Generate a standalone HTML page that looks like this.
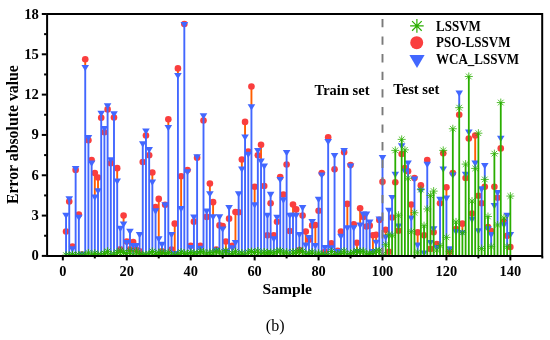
<!DOCTYPE html>
<html><head><meta charset="utf-8"><title>chart</title><style>html,body{margin:0;padding:0;background:#fff}body{width:550px;height:340px;overflow:hidden}</style></head><body>
<svg width="550" height="340" viewBox="0 0 550 340" style="display:block">
<rect x="0" y="0" width="550" height="340" fill="#fff"/>
<defs><clipPath id="pc"><rect x="47" y="14" width="495" height="242"/></clipPath></defs>
<g clip-path="url(#pc)">
<g stroke="#FF5E00" stroke-width="1.9">
<line x1="72.44" y1="248.91" x2="72.44" y2="246.49"/>
<line x1="78.83" y1="217.46" x2="78.83" y2="214.50"/>
<line x1="85.23" y1="67.74" x2="85.23" y2="59.27"/>
<line x1="91.62" y1="163.16" x2="91.62" y2="160.07"/>
<line x1="94.81" y1="197.17" x2="94.81" y2="173.11"/>
<line x1="98.01" y1="190.98" x2="98.01" y2="177.54"/>
<line x1="117.19" y1="181.31" x2="117.19" y2="168.14"/>
<line x1="123.58" y1="224.18" x2="123.58" y2="215.58"/>
<line x1="126.78" y1="242.73" x2="126.78" y2="241.52"/>
<line x1="133.17" y1="245.82" x2="133.17" y2="242.06"/>
<line x1="152.35" y1="182.25" x2="152.35" y2="172.57"/>
<line x1="155.55" y1="211.14" x2="155.55" y2="206.98"/>
<line x1="158.75" y1="238.97" x2="158.75" y2="198.91"/>
<line x1="165.14" y1="205.10" x2="165.14" y2="204.83"/>
<line x1="168.33" y1="127.82" x2="168.33" y2="119.35"/>
<line x1="174.73" y1="253.88" x2="174.73" y2="223.64"/>
<line x1="177.92" y1="75.67" x2="177.92" y2="68.41"/>
<line x1="181.12" y1="208.86" x2="181.12" y2="176.20"/>
<line x1="184.32" y1="24.73" x2="184.32" y2="24.06"/>
<line x1="187.51" y1="171.90" x2="187.51" y2="170.02"/>
<line x1="190.71" y1="247.70" x2="190.71" y2="245.82"/>
<line x1="200.30" y1="248.51" x2="200.30" y2="245.82"/>
<line x1="209.89" y1="194.08" x2="209.89" y2="183.59"/>
<line x1="213.09" y1="216.92" x2="213.09" y2="202.14"/>
<line x1="216.28" y1="250.52" x2="216.28" y2="249.45"/>
<line x1="222.67" y1="229.15" x2="222.67" y2="226.06"/>
<line x1="225.87" y1="250.66" x2="225.87" y2="241.52"/>
<line x1="232.26" y1="248.10" x2="232.26" y2="245.82"/>
<line x1="235.46" y1="242.73" x2="235.46" y2="211.95"/>
<line x1="241.85" y1="169.35" x2="241.85" y2="159.54"/>
<line x1="245.05" y1="137.22" x2="245.05" y2="121.90"/>
<line x1="248.25" y1="154.56" x2="248.25" y2="151.47"/>
<line x1="251.44" y1="106.98" x2="251.44" y2="86.56"/>
<line x1="254.64" y1="205.10" x2="254.64" y2="186.68"/>
<line x1="261.03" y1="161.28" x2="261.03" y2="144.75"/>
<line x1="273.82" y1="238.97" x2="273.82" y2="235.34"/>
<line x1="280.21" y1="179.83" x2="280.21" y2="177.01"/>
<line x1="283.41" y1="200.12" x2="283.41" y2="194.61"/>
<line x1="293.00" y1="215.58" x2="293.00" y2="204.56"/>
<line x1="296.19" y1="215.58" x2="296.19" y2="209.40"/>
<line x1="305.78" y1="245.15" x2="305.78" y2="231.57"/>
<line x1="315.37" y1="245.82" x2="315.37" y2="224.99"/>
<line x1="321.77" y1="175.26" x2="321.77" y2="173.11"/>
<line x1="328.16" y1="141.66" x2="328.16" y2="137.22"/>
<line x1="331.36" y1="248.10" x2="331.36" y2="243.40"/>
<line x1="337.75" y1="251.87" x2="337.75" y2="250.79"/>
<line x1="340.95" y1="236.55" x2="340.95" y2="231.57"/>
<line x1="347.34" y1="227.94" x2="347.34" y2="203.89"/>
<line x1="350.54" y1="166.26" x2="350.54" y2="165.05"/>
<line x1="353.73" y1="227.94" x2="353.73" y2="224.18"/>
<line x1="356.93" y1="251.06" x2="356.93" y2="242.73"/>
<line x1="360.12" y1="225.39" x2="360.12" y2="208.19"/>
<line x1="372.91" y1="251.87" x2="372.91" y2="235.34"/>
<line x1="376.11" y1="242.46" x2="376.11" y2="234.80"/>
<line x1="385.70" y1="237.22" x2="385.70" y2="229.69"/>
<line x1="411.27" y1="218.27" x2="411.27" y2="204.56"/>
<line x1="414.47" y1="179.29" x2="414.47" y2="177.95"/>
<line x1="417.66" y1="245.15" x2="417.66" y2="232.38"/>
<line x1="420.86" y1="190.04" x2="420.86" y2="185.34"/>
<line x1="427.25" y1="164.51" x2="427.25" y2="160.07"/>
<line x1="436.84" y1="247.70" x2="436.84" y2="243.94"/>
<line x1="446.43" y1="198.38" x2="446.43" y2="187.36"/>
<line x1="462.41" y1="233.05" x2="462.41" y2="223.64"/>
<line x1="475.20" y1="163.16" x2="475.20" y2="135.48"/>
<line x1="491.18" y1="234.66" x2="491.18" y2="231.04"/>
</g>
<g fill="#FA3E3E">
<circle cx="66.05" cy="231.57" r="3.3"/>
<circle cx="69.24" cy="201.60" r="3.3"/>
<circle cx="72.44" cy="246.49" r="3.3"/>
<circle cx="75.64" cy="169.88" r="3.3"/>
<circle cx="78.83" cy="214.50" r="3.3"/>
<circle cx="82.03" cy="254.56" r="3.3"/>
<circle cx="85.23" cy="59.27" r="3.3"/>
<circle cx="88.42" cy="140.32" r="3.3"/>
<circle cx="91.62" cy="160.07" r="3.3"/>
<circle cx="94.81" cy="173.11" r="3.3"/>
<circle cx="98.01" cy="177.54" r="3.3"/>
<circle cx="101.21" cy="117.87" r="3.3"/>
<circle cx="104.40" cy="132.25" r="3.3"/>
<circle cx="107.60" cy="109.40" r="3.3"/>
<circle cx="110.80" cy="163.16" r="3.3"/>
<circle cx="113.99" cy="117.47" r="3.3"/>
<circle cx="117.19" cy="168.14" r="3.3"/>
<circle cx="120.39" cy="249.18" r="3.3"/>
<circle cx="123.58" cy="215.58" r="3.3"/>
<circle cx="126.78" cy="241.52" r="3.3"/>
<circle cx="129.98" cy="249.18" r="3.3"/>
<circle cx="133.17" cy="242.06" r="3.3"/>
<circle cx="136.37" cy="249.85" r="3.3"/>
<circle cx="139.57" cy="251.20" r="3.3"/>
<circle cx="142.76" cy="161.95" r="3.3"/>
<circle cx="145.96" cy="135.48" r="3.3"/>
<circle cx="149.16" cy="155.23" r="3.3"/>
<circle cx="152.35" cy="172.57" r="3.3"/>
<circle cx="155.55" cy="206.98" r="3.3"/>
<circle cx="158.75" cy="198.91" r="3.3"/>
<circle cx="161.94" cy="251.20" r="3.3"/>
<circle cx="165.14" cy="204.83" r="3.3"/>
<circle cx="168.33" cy="119.35" r="3.3"/>
<circle cx="171.53" cy="249.58" r="3.3"/>
<circle cx="174.73" cy="223.64" r="3.3"/>
<circle cx="177.92" cy="68.41" r="3.3"/>
<circle cx="181.12" cy="176.20" r="3.3"/>
<circle cx="184.32" cy="24.06" r="3.3"/>
<circle cx="187.51" cy="170.02" r="3.3"/>
<circle cx="190.71" cy="245.82" r="3.3"/>
<circle cx="193.91" cy="221.63" r="3.3"/>
<circle cx="197.10" cy="157.79" r="3.3"/>
<circle cx="200.30" cy="245.82" r="3.3"/>
<circle cx="203.50" cy="120.56" r="3.3"/>
<circle cx="206.69" cy="216.92" r="3.3"/>
<circle cx="209.89" cy="183.59" r="3.3"/>
<circle cx="213.09" cy="202.14" r="3.3"/>
<circle cx="216.28" cy="249.45" r="3.3"/>
<circle cx="219.48" cy="225.39" r="3.3"/>
<circle cx="222.67" cy="226.06" r="3.3"/>
<circle cx="225.87" cy="241.52" r="3.3"/>
<circle cx="229.07" cy="218.67" r="3.3"/>
<circle cx="232.26" cy="245.82" r="3.3"/>
<circle cx="235.46" cy="211.95" r="3.3"/>
<circle cx="238.66" cy="212.22" r="3.3"/>
<circle cx="241.85" cy="159.54" r="3.3"/>
<circle cx="245.05" cy="121.90" r="3.3"/>
<circle cx="248.25" cy="151.47" r="3.3"/>
<circle cx="251.44" cy="86.56" r="3.3"/>
<circle cx="254.64" cy="186.68" r="3.3"/>
<circle cx="257.84" cy="155.23" r="3.3"/>
<circle cx="261.03" cy="144.75" r="3.3"/>
<circle cx="264.23" cy="186.01" r="3.3"/>
<circle cx="267.43" cy="235.34" r="3.3"/>
<circle cx="270.62" cy="203.22" r="3.3"/>
<circle cx="273.82" cy="235.34" r="3.3"/>
<circle cx="277.02" cy="221.76" r="3.3"/>
<circle cx="280.21" cy="177.01" r="3.3"/>
<circle cx="283.41" cy="194.61" r="3.3"/>
<circle cx="286.61" cy="164.51" r="3.3"/>
<circle cx="289.80" cy="231.04" r="3.3"/>
<circle cx="293.00" cy="204.56" r="3.3"/>
<circle cx="296.19" cy="209.40" r="3.3"/>
<circle cx="299.39" cy="250.12" r="3.3"/>
<circle cx="302.59" cy="215.58" r="3.3"/>
<circle cx="305.78" cy="231.57" r="3.3"/>
<circle cx="308.98" cy="239.77" r="3.3"/>
<circle cx="312.18" cy="225.39" r="3.3"/>
<circle cx="315.37" cy="224.99" r="3.3"/>
<circle cx="318.57" cy="210.74" r="3.3"/>
<circle cx="321.77" cy="173.11" r="3.3"/>
<circle cx="324.96" cy="251.87" r="3.3"/>
<circle cx="328.16" cy="137.22" r="3.3"/>
<circle cx="331.36" cy="243.40" r="3.3"/>
<circle cx="334.55" cy="169.35" r="3.3"/>
<circle cx="337.75" cy="250.79" r="3.3"/>
<circle cx="340.95" cy="231.57" r="3.3"/>
<circle cx="344.14" cy="152.14" r="3.3"/>
<circle cx="347.34" cy="203.89" r="3.3"/>
<circle cx="350.54" cy="165.05" r="3.3"/>
<circle cx="353.73" cy="224.18" r="3.3"/>
<circle cx="356.93" cy="242.73" r="3.3"/>
<circle cx="360.12" cy="208.19" r="3.3"/>
<circle cx="363.32" cy="216.92" r="3.3"/>
<circle cx="366.52" cy="226.60" r="3.3"/>
<circle cx="369.71" cy="225.66" r="3.3"/>
<circle cx="372.91" cy="235.34" r="3.3"/>
<circle cx="376.11" cy="234.80" r="3.3"/>
<circle cx="379.30" cy="219.88" r="3.3"/>
<circle cx="382.50" cy="181.71" r="3.3"/>
<circle cx="385.70" cy="229.69" r="3.3"/>
<circle cx="388.89" cy="251.87" r="3.3"/>
<circle cx="392.09" cy="217.60" r="3.3"/>
<circle cx="395.29" cy="182.25" r="3.3"/>
<circle cx="398.48" cy="230.77" r="3.3"/>
<circle cx="401.68" cy="154.02" r="3.3"/>
<circle cx="404.88" cy="168.14" r="3.3"/>
<circle cx="408.07" cy="171.23" r="3.3"/>
<circle cx="411.27" cy="204.56" r="3.3"/>
<circle cx="414.47" cy="177.95" r="3.3"/>
<circle cx="417.66" cy="232.38" r="3.3"/>
<circle cx="420.86" cy="185.34" r="3.3"/>
<circle cx="424.05" cy="235.34" r="3.3"/>
<circle cx="427.25" cy="160.07" r="3.3"/>
<circle cx="430.45" cy="248.91" r="3.3"/>
<circle cx="433.64" cy="232.25" r="3.3"/>
<circle cx="436.84" cy="243.94" r="3.3"/>
<circle cx="440.04" cy="203.22" r="3.3"/>
<circle cx="443.23" cy="153.35" r="3.3"/>
<circle cx="446.43" cy="187.36" r="3.3"/>
<circle cx="449.63" cy="251.87" r="3.3"/>
<circle cx="452.82" cy="173.11" r="3.3"/>
<circle cx="456.02" cy="229.02" r="3.3"/>
<circle cx="459.22" cy="114.78" r="3.3"/>
<circle cx="462.41" cy="223.64" r="3.3"/>
<circle cx="465.61" cy="177.95" r="3.3"/>
<circle cx="468.81" cy="138.57" r="3.3"/>
<circle cx="472.00" cy="213.56" r="3.3"/>
<circle cx="475.20" cy="135.48" r="3.3"/>
<circle cx="478.39" cy="195.82" r="3.3"/>
<circle cx="481.59" cy="203.22" r="3.3"/>
<circle cx="484.79" cy="186.68" r="3.3"/>
<circle cx="487.98" cy="227.00" r="3.3"/>
<circle cx="491.18" cy="231.04" r="3.3"/>
<circle cx="494.38" cy="186.68" r="3.3"/>
<circle cx="497.57" cy="197.70" r="3.3"/>
<circle cx="500.77" cy="148.38" r="3.3"/>
<circle cx="503.97" cy="221.49" r="3.3"/>
<circle cx="507.16" cy="235.87" r="3.3"/>
<circle cx="510.36" cy="247.03" r="3.3"/>
</g>
<g stroke="#4267FF" stroke-width="1.9">
<line x1="66.05" y1="255.23" x2="66.05" y2="215.58"/>
<line x1="69.24" y1="255.36" x2="69.24" y2="198.91"/>
<line x1="72.44" y1="254.69" x2="72.44" y2="248.91"/>
<line x1="75.64" y1="255.50" x2="75.64" y2="168.81"/>
<line x1="78.83" y1="254.96" x2="78.83" y2="217.46"/>
<line x1="82.03" y1="255.09" x2="82.03" y2="254.56"/>
<line x1="85.23" y1="255.09" x2="85.23" y2="67.74"/>
<line x1="88.42" y1="252.94" x2="88.42" y2="137.90"/>
<line x1="91.62" y1="255.23" x2="91.62" y2="163.16"/>
<line x1="94.81" y1="253.21" x2="94.81" y2="197.17"/>
<line x1="98.01" y1="254.96" x2="98.01" y2="190.98"/>
<line x1="101.21" y1="254.96" x2="101.21" y2="113.44"/>
<line x1="104.40" y1="253.35" x2="104.40" y2="128.76"/>
<line x1="107.60" y1="251.33" x2="107.60" y2="106.04"/>
<line x1="110.80" y1="254.82" x2="110.80" y2="160.07"/>
<line x1="113.99" y1="254.29" x2="113.99" y2="114.11"/>
<line x1="117.19" y1="252.27" x2="117.19" y2="181.31"/>
<line x1="120.39" y1="250.79" x2="120.39" y2="228.48"/>
<line x1="123.58" y1="252.54" x2="123.58" y2="224.18"/>
<line x1="126.78" y1="253.48" x2="126.78" y2="242.73"/>
<line x1="129.98" y1="250.66" x2="129.98" y2="231.57"/>
<line x1="133.17" y1="255.09" x2="133.17" y2="245.82"/>
<line x1="136.37" y1="251.20" x2="136.37" y2="245.82"/>
<line x1="139.57" y1="254.02" x2="139.57" y2="234.66"/>
<line x1="142.76" y1="254.69" x2="142.76" y2="144.08"/>
<line x1="145.96" y1="254.82" x2="145.96" y2="131.31"/>
<line x1="149.16" y1="253.88" x2="149.16" y2="149.72"/>
<line x1="152.35" y1="251.46" x2="152.35" y2="182.25"/>
<line x1="155.55" y1="254.42" x2="155.55" y2="211.14"/>
<line x1="158.75" y1="252.54" x2="158.75" y2="238.97"/>
<line x1="161.94" y1="252.27" x2="161.94" y2="244.61"/>
<line x1="165.14" y1="253.62" x2="165.14" y2="205.10"/>
<line x1="168.33" y1="252.67" x2="168.33" y2="127.82"/>
<line x1="171.53" y1="255.09" x2="171.53" y2="234.66"/>
<line x1="174.73" y1="255.09" x2="174.73" y2="253.88"/>
<line x1="177.92" y1="254.42" x2="177.92" y2="75.67"/>
<line x1="181.12" y1="252.14" x2="181.12" y2="208.86"/>
<line x1="184.32" y1="253.35" x2="184.32" y2="24.73"/>
<line x1="187.51" y1="253.88" x2="187.51" y2="171.90"/>
<line x1="190.71" y1="252.54" x2="190.71" y2="247.70"/>
<line x1="193.91" y1="253.21" x2="193.91" y2="217.19"/>
<line x1="197.10" y1="253.88" x2="197.10" y2="156.98"/>
<line x1="200.30" y1="251.46" x2="200.30" y2="248.51"/>
<line x1="203.50" y1="252.00" x2="203.50" y2="115.99"/>
<line x1="206.69" y1="254.15" x2="206.69" y2="211.28"/>
<line x1="209.89" y1="252.54" x2="209.89" y2="194.08"/>
<line x1="213.09" y1="252.81" x2="213.09" y2="216.92"/>
<line x1="216.28" y1="251.06" x2="216.28" y2="250.52"/>
<line x1="219.48" y1="251.87" x2="219.48" y2="216.92"/>
<line x1="222.67" y1="254.02" x2="222.67" y2="229.15"/>
<line x1="229.07" y1="254.82" x2="229.07" y2="207.65"/>
<line x1="232.26" y1="253.35" x2="232.26" y2="248.10"/>
<line x1="235.46" y1="251.73" x2="235.46" y2="242.73"/>
<line x1="238.66" y1="254.69" x2="238.66" y2="194.08"/>
<line x1="241.85" y1="252.94" x2="241.85" y2="169.35"/>
<line x1="245.05" y1="255.23" x2="245.05" y2="137.22"/>
<line x1="248.25" y1="252.14" x2="248.25" y2="154.56"/>
<line x1="251.44" y1="251.60" x2="251.44" y2="106.98"/>
<line x1="254.64" y1="252.54" x2="254.64" y2="205.10"/>
<line x1="257.84" y1="251.06" x2="257.84" y2="150.80"/>
<line x1="261.03" y1="253.88" x2="261.03" y2="161.28"/>
<line x1="264.23" y1="252.00" x2="264.23" y2="166.26"/>
<line x1="267.43" y1="252.54" x2="267.43" y2="215.58"/>
<line x1="270.62" y1="252.54" x2="270.62" y2="194.61"/>
<line x1="273.82" y1="253.21" x2="273.82" y2="238.97"/>
<line x1="277.02" y1="251.33" x2="277.02" y2="217.46"/>
<line x1="280.21" y1="250.79" x2="280.21" y2="179.83"/>
<line x1="283.41" y1="253.08" x2="283.41" y2="200.12"/>
<line x1="286.61" y1="252.14" x2="286.61" y2="152.68"/>
<line x1="289.80" y1="255.09" x2="289.80" y2="215.58"/>
<line x1="293.00" y1="252.00" x2="293.00" y2="215.58"/>
<line x1="296.19" y1="252.27" x2="296.19" y2="215.58"/>
<line x1="299.39" y1="250.52" x2="299.39" y2="234.66"/>
<line x1="302.59" y1="251.33" x2="302.59" y2="207.65"/>
<line x1="305.78" y1="254.02" x2="305.78" y2="245.15"/>
<line x1="308.98" y1="253.48" x2="308.98" y2="237.76"/>
<line x1="312.18" y1="252.14" x2="312.18" y2="221.76"/>
<line x1="315.37" y1="255.23" x2="315.37" y2="245.82"/>
<line x1="318.57" y1="253.08" x2="318.57" y2="199.45"/>
<line x1="321.77" y1="254.56" x2="321.77" y2="175.26"/>
<line x1="324.96" y1="254.82" x2="324.96" y2="247.70"/>
<line x1="328.16" y1="255.09" x2="328.16" y2="141.66"/>
<line x1="331.36" y1="251.60" x2="331.36" y2="248.10"/>
<line x1="334.55" y1="254.69" x2="334.55" y2="155.77"/>
<line x1="337.75" y1="254.15" x2="337.75" y2="251.87"/>
<line x1="340.95" y1="253.48" x2="340.95" y2="236.55"/>
<line x1="344.14" y1="251.20" x2="344.14" y2="150.80"/>
<line x1="347.34" y1="254.96" x2="347.34" y2="227.94"/>
<line x1="350.54" y1="253.21" x2="350.54" y2="166.26"/>
<line x1="353.73" y1="252.67" x2="353.73" y2="227.94"/>
<line x1="360.12" y1="251.46" x2="360.12" y2="225.39"/>
<line x1="363.32" y1="251.20" x2="363.32" y2="214.24"/>
<line x1="366.52" y1="254.02" x2="366.52" y2="214.24"/>
<line x1="369.71" y1="253.35" x2="369.71" y2="222.30"/>
<line x1="372.91" y1="253.62" x2="372.91" y2="251.87"/>
<line x1="376.11" y1="251.06" x2="376.11" y2="242.46"/>
<line x1="379.30" y1="250.79" x2="379.30" y2="219.34"/>
<line x1="382.50" y1="254.69" x2="382.50" y2="157.65"/>
<line x1="385.70" y1="245.15" x2="385.70" y2="237.22"/>
<line x1="388.89" y1="235.07" x2="388.89" y2="210.47"/>
<line x1="392.09" y1="235.74" x2="392.09" y2="197.84"/>
<line x1="408.07" y1="178.62" x2="408.07" y2="163.16"/>
<line x1="411.27" y1="232.11" x2="411.27" y2="218.27"/>
<line x1="414.47" y1="213.16" x2="414.47" y2="179.29"/>
<line x1="417.66" y1="252.54" x2="417.66" y2="245.15"/>
<line x1="427.25" y1="209.40" x2="427.25" y2="164.51"/>
<line x1="436.84" y1="250.52" x2="436.84" y2="247.70"/>
<line x1="440.04" y1="245.82" x2="440.04" y2="199.59"/>
<line x1="446.43" y1="237.76" x2="446.43" y2="198.38"/>
<line x1="449.63" y1="251.87" x2="449.63" y2="248.91"/>
<line x1="459.22" y1="108.06" x2="459.22" y2="93.28"/>
<line x1="475.20" y1="168.81" x2="475.20" y2="163.16"/>
<line x1="481.59" y1="248.91" x2="481.59" y2="189.10"/>
<line x1="484.79" y1="179.83" x2="484.79" y2="165.72"/>
<line x1="491.18" y1="247.03" x2="491.18" y2="234.66"/>
<line x1="497.57" y1="225.39" x2="497.57" y2="192.73"/>
<line x1="507.16" y1="247.03" x2="507.16" y2="215.58"/>
</g>
<g fill="#4267FF">
<path d="M62.25 212.81L69.85 212.81L66.05 219.11Z"/>
<path d="M65.44 196.14L73.04 196.14L69.24 202.44Z"/>
<path d="M68.64 246.14L76.24 246.14L72.44 252.44Z"/>
<path d="M71.84 166.04L79.44 166.04L75.64 172.34Z"/>
<path d="M75.03 214.69L82.63 214.69L78.83 220.99Z"/>
<path d="M78.23 251.78L85.83 251.78L82.03 258.08Z"/>
<path d="M81.43 64.97L89.03 64.97L85.23 71.27Z"/>
<path d="M84.62 135.12L92.22 135.12L88.42 141.42Z"/>
<path d="M87.82 160.39L95.42 160.39L91.62 166.69Z"/>
<path d="M91.02 194.40L98.61 194.40L94.81 200.70Z"/>
<path d="M94.21 188.21L101.81 188.21L98.01 194.51Z"/>
<path d="M97.41 110.66L105.01 110.66L101.21 116.96Z"/>
<path d="M100.60 125.99L108.20 125.99L104.40 132.29Z"/>
<path d="M103.80 103.27L111.40 103.27L107.60 109.57Z"/>
<path d="M107.00 157.30L114.60 157.30L110.80 163.60Z"/>
<path d="M110.19 111.34L117.79 111.34L113.99 117.64Z"/>
<path d="M113.39 178.54L120.99 178.54L117.19 184.84Z"/>
<path d="M116.59 225.71L124.19 225.71L120.39 232.01Z"/>
<path d="M119.78 221.41L127.38 221.41L123.58 227.71Z"/>
<path d="M122.98 239.96L130.58 239.96L126.78 246.26Z"/>
<path d="M126.18 228.80L133.78 228.80L129.98 235.10Z"/>
<path d="M129.37 243.05L136.97 243.05L133.17 249.35Z"/>
<path d="M132.57 243.05L140.17 243.05L136.37 249.35Z"/>
<path d="M135.77 231.89L143.37 231.89L139.57 238.19Z"/>
<path d="M138.96 141.31L146.56 141.31L142.76 147.61Z"/>
<path d="M142.16 128.54L149.76 128.54L145.96 134.84Z"/>
<path d="M145.36 146.95L152.96 146.95L149.16 153.25Z"/>
<path d="M148.55 179.48L156.15 179.48L152.35 185.78Z"/>
<path d="M151.75 208.37L159.35 208.37L155.55 214.67Z"/>
<path d="M154.94 236.19L162.55 236.19L158.75 242.49Z"/>
<path d="M158.14 241.84L165.74 241.84L161.94 248.14Z"/>
<path d="M161.34 202.32L168.94 202.32L165.14 208.62Z"/>
<path d="M164.53 125.04L172.13 125.04L168.33 131.34Z"/>
<path d="M167.73 231.89L175.33 231.89L171.53 238.19Z"/>
<path d="M170.93 251.11L178.53 251.11L174.73 257.41Z"/>
<path d="M174.12 72.90L181.72 72.90L177.92 79.20Z"/>
<path d="M177.32 206.09L184.92 206.09L181.12 212.39Z"/>
<path d="M180.52 21.96L188.12 21.96L184.32 28.26Z"/>
<path d="M183.71 169.13L191.31 169.13L187.51 175.43Z"/>
<path d="M186.91 244.93L194.51 244.93L190.71 251.23Z"/>
<path d="M190.11 214.42L197.71 214.42L193.91 220.72Z"/>
<path d="M193.30 154.21L200.90 154.21L197.10 160.51Z"/>
<path d="M196.50 245.74L204.10 245.74L200.30 252.04Z"/>
<path d="M199.70 113.22L207.30 113.22L203.50 119.52Z"/>
<path d="M202.89 208.51L210.49 208.51L206.69 214.81Z"/>
<path d="M206.09 191.30L213.69 191.30L209.89 197.60Z"/>
<path d="M209.29 214.15L216.89 214.15L213.09 220.45Z"/>
<path d="M212.48 247.75L220.08 247.75L216.28 254.05Z"/>
<path d="M215.68 214.15L223.28 214.15L219.48 220.45Z"/>
<path d="M218.87 226.38L226.47 226.38L222.67 232.68Z"/>
<path d="M222.07 249.10L229.67 249.10L225.87 255.40Z"/>
<path d="M225.27 204.88L232.87 204.88L229.07 211.18Z"/>
<path d="M228.46 245.33L236.06 245.33L232.26 251.63Z"/>
<path d="M231.66 239.96L239.26 239.96L235.46 246.26Z"/>
<path d="M234.86 191.30L242.46 191.30L238.66 197.60Z"/>
<path d="M238.05 166.57L245.65 166.57L241.85 172.87Z"/>
<path d="M241.25 134.45L248.85 134.45L245.05 140.75Z"/>
<path d="M244.45 151.79L252.05 151.79L248.25 158.09Z"/>
<path d="M247.64 104.21L255.24 104.21L251.44 110.51Z"/>
<path d="M250.84 202.32L258.44 202.32L254.64 208.62Z"/>
<path d="M254.04 148.03L261.64 148.03L257.84 154.33Z"/>
<path d="M257.23 158.51L264.83 158.51L261.03 164.81Z"/>
<path d="M260.43 163.48L268.03 163.48L264.23 169.78Z"/>
<path d="M263.63 212.81L271.23 212.81L267.43 219.11Z"/>
<path d="M266.82 191.84L274.42 191.84L270.62 198.14Z"/>
<path d="M270.02 236.19L277.62 236.19L273.82 242.49Z"/>
<path d="M273.22 214.69L280.82 214.69L277.02 220.99Z"/>
<path d="M276.41 177.06L284.01 177.06L280.21 183.36Z"/>
<path d="M279.61 197.35L287.21 197.35L283.41 203.65Z"/>
<path d="M282.81 149.91L290.41 149.91L286.61 156.21Z"/>
<path d="M286.00 212.81L293.60 212.81L289.80 219.11Z"/>
<path d="M289.20 212.81L296.80 212.81L293.00 219.11Z"/>
<path d="M292.39 212.81L299.99 212.81L296.19 219.11Z"/>
<path d="M295.59 231.89L303.19 231.89L299.39 238.19Z"/>
<path d="M298.79 204.88L306.39 204.88L302.59 211.18Z"/>
<path d="M301.98 242.38L309.58 242.38L305.78 248.68Z"/>
<path d="M305.18 234.98L312.78 234.98L308.98 241.28Z"/>
<path d="M308.38 218.99L315.98 218.99L312.18 225.29Z"/>
<path d="M311.57 243.05L319.17 243.05L315.37 249.35Z"/>
<path d="M314.77 196.68L322.37 196.68L318.57 202.98Z"/>
<path d="M317.97 172.49L325.57 172.49L321.77 178.79Z"/>
<path d="M321.16 244.93L328.76 244.93L324.96 251.23Z"/>
<path d="M324.36 138.89L331.96 138.89L328.16 145.19Z"/>
<path d="M327.56 245.33L335.16 245.33L331.36 251.63Z"/>
<path d="M330.75 153.00L338.35 153.00L334.55 159.30Z"/>
<path d="M333.95 249.10L341.55 249.10L337.75 255.40Z"/>
<path d="M337.15 233.77L344.75 233.77L340.95 240.07Z"/>
<path d="M340.34 148.03L347.94 148.03L344.14 154.33Z"/>
<path d="M343.54 225.17L351.14 225.17L347.34 231.47Z"/>
<path d="M346.74 163.48L354.34 163.48L350.54 169.78Z"/>
<path d="M349.93 225.17L357.53 225.17L353.73 231.47Z"/>
<path d="M353.13 249.10L360.73 249.10L356.93 255.40Z"/>
<path d="M356.32 222.62L363.92 222.62L360.12 228.92Z"/>
<path d="M359.52 211.46L367.12 211.46L363.32 217.76Z"/>
<path d="M362.72 211.46L370.32 211.46L366.52 217.76Z"/>
<path d="M365.91 219.53L373.51 219.53L369.71 225.83Z"/>
<path d="M369.11 249.10L376.71 249.10L372.91 255.40Z"/>
<path d="M372.31 239.69L379.91 239.69L376.11 245.99Z"/>
<path d="M375.50 216.57L383.10 216.57L379.30 222.87Z"/>
<path d="M378.70 154.88L386.30 154.88L382.50 161.18Z"/>
<path d="M381.90 234.45L389.50 234.45L385.70 240.75Z"/>
<path d="M385.09 207.70L392.69 207.70L388.89 214.00Z"/>
<path d="M388.29 195.07L395.89 195.07L392.09 201.37Z"/>
<path d="M391.49 171.82L399.09 171.82L395.29 178.12Z"/>
<path d="M394.68 223.56L402.28 223.56L398.48 229.86Z"/>
<path d="M397.88 143.19L405.48 143.19L401.68 149.49Z"/>
<path d="M401.08 168.46L408.68 168.46L404.88 174.76Z"/>
<path d="M404.27 160.39L411.87 160.39L408.07 166.69Z"/>
<path d="M407.47 215.50L415.07 215.50L411.27 221.80Z"/>
<path d="M410.67 176.52L418.27 176.52L414.47 182.82Z"/>
<path d="M413.86 242.38L421.46 242.38L417.66 248.68Z"/>
<path d="M417.06 188.21L424.66 188.21L420.86 194.51Z"/>
<path d="M420.25 250.44L427.85 250.44L424.05 256.74Z"/>
<path d="M423.45 161.74L431.05 161.74L427.25 168.04Z"/>
<path d="M426.65 239.96L434.25 239.96L430.45 246.26Z"/>
<path d="M429.84 226.25L437.44 226.25L433.64 232.55Z"/>
<path d="M433.04 244.93L440.64 244.93L436.84 251.23Z"/>
<path d="M436.24 196.81L443.84 196.81L440.04 203.11Z"/>
<path d="M439.43 166.57L447.03 166.57L443.23 172.87Z"/>
<path d="M442.63 195.60L450.23 195.60L446.43 201.90Z"/>
<path d="M445.83 246.14L453.43 246.14L449.63 252.44Z"/>
<path d="M449.02 172.49L456.62 172.49L452.82 178.79Z"/>
<path d="M452.22 228.94L459.82 228.94L456.02 235.24Z"/>
<path d="M455.42 90.50L463.02 90.50L459.22 96.80Z"/>
<path d="M458.61 230.28L466.21 230.28L462.41 236.58Z"/>
<path d="M461.81 171.82L469.41 171.82L465.61 178.12Z"/>
<path d="M465.01 129.48L472.61 129.48L468.81 135.78Z"/>
<path d="M468.20 216.84L475.80 216.84L472.00 223.14Z"/>
<path d="M471.40 160.39L479.00 160.39L475.20 166.69Z"/>
<path d="M474.59 228.26L482.19 228.26L478.39 234.56Z"/>
<path d="M477.79 186.33L485.39 186.33L481.59 192.63Z"/>
<path d="M480.99 162.95L488.59 162.95L484.79 169.25Z"/>
<path d="M484.18 226.25L491.78 226.25L487.98 232.55Z"/>
<path d="M487.38 231.89L494.98 231.89L491.18 238.19Z"/>
<path d="M490.58 203.00L498.18 203.00L494.38 209.30Z"/>
<path d="M493.77 189.96L501.37 189.96L497.57 196.26Z"/>
<path d="M496.97 135.80L504.57 135.80L500.77 142.10Z"/>
<path d="M500.17 222.22L507.77 222.22L503.97 228.52Z"/>
<path d="M503.36 212.81L510.96 212.81L507.16 219.11Z"/>
<path d="M506.56 231.89L514.16 231.89L510.36 238.19Z"/>
</g>
<g stroke="#2AAE00" stroke-width="1.8">
<line x1="66.05" y1="255.90" x2="66.05" y2="255.23"/>
<line x1="69.24" y1="255.90" x2="69.24" y2="255.36"/>
<line x1="72.44" y1="255.90" x2="72.44" y2="254.69"/>
<line x1="75.64" y1="255.90" x2="75.64" y2="255.50"/>
<line x1="78.83" y1="255.90" x2="78.83" y2="254.96"/>
<line x1="82.03" y1="255.90" x2="82.03" y2="255.09"/>
<line x1="85.23" y1="255.90" x2="85.23" y2="255.09"/>
<line x1="88.42" y1="255.90" x2="88.42" y2="252.94"/>
<line x1="91.62" y1="255.90" x2="91.62" y2="255.23"/>
<line x1="94.81" y1="255.90" x2="94.81" y2="253.21"/>
<line x1="98.01" y1="255.90" x2="98.01" y2="254.96"/>
<line x1="101.21" y1="255.90" x2="101.21" y2="254.96"/>
<line x1="104.40" y1="255.90" x2="104.40" y2="253.35"/>
<line x1="107.60" y1="255.90" x2="107.60" y2="251.33"/>
<line x1="110.80" y1="255.90" x2="110.80" y2="254.82"/>
<line x1="113.99" y1="255.90" x2="113.99" y2="254.29"/>
<line x1="117.19" y1="255.90" x2="117.19" y2="252.27"/>
<line x1="120.39" y1="255.90" x2="120.39" y2="250.79"/>
<line x1="123.58" y1="255.90" x2="123.58" y2="252.54"/>
<line x1="126.78" y1="255.90" x2="126.78" y2="253.48"/>
<line x1="129.98" y1="255.90" x2="129.98" y2="250.66"/>
<line x1="133.17" y1="255.90" x2="133.17" y2="255.09"/>
<line x1="136.37" y1="255.90" x2="136.37" y2="251.20"/>
<line x1="139.57" y1="255.90" x2="139.57" y2="254.02"/>
<line x1="142.76" y1="255.90" x2="142.76" y2="254.69"/>
<line x1="145.96" y1="255.90" x2="145.96" y2="254.82"/>
<line x1="149.16" y1="255.90" x2="149.16" y2="253.88"/>
<line x1="152.35" y1="255.90" x2="152.35" y2="251.46"/>
<line x1="155.55" y1="255.90" x2="155.55" y2="254.42"/>
<line x1="158.75" y1="255.90" x2="158.75" y2="252.54"/>
<line x1="161.94" y1="255.90" x2="161.94" y2="252.27"/>
<line x1="165.14" y1="255.90" x2="165.14" y2="253.62"/>
<line x1="168.33" y1="255.90" x2="168.33" y2="252.67"/>
<line x1="171.53" y1="255.90" x2="171.53" y2="255.09"/>
<line x1="174.73" y1="255.90" x2="174.73" y2="255.09"/>
<line x1="177.92" y1="255.90" x2="177.92" y2="254.42"/>
<line x1="181.12" y1="255.90" x2="181.12" y2="252.14"/>
<line x1="184.32" y1="255.90" x2="184.32" y2="253.35"/>
<line x1="187.51" y1="255.90" x2="187.51" y2="253.88"/>
<line x1="190.71" y1="255.90" x2="190.71" y2="252.54"/>
<line x1="193.91" y1="255.90" x2="193.91" y2="253.21"/>
<line x1="197.10" y1="255.90" x2="197.10" y2="253.88"/>
<line x1="200.30" y1="255.90" x2="200.30" y2="251.46"/>
<line x1="203.50" y1="255.90" x2="203.50" y2="252.00"/>
<line x1="206.69" y1="255.90" x2="206.69" y2="254.15"/>
<line x1="209.89" y1="255.90" x2="209.89" y2="252.54"/>
<line x1="213.09" y1="255.90" x2="213.09" y2="252.81"/>
<line x1="216.28" y1="255.90" x2="216.28" y2="251.06"/>
<line x1="219.48" y1="255.90" x2="219.48" y2="251.87"/>
<line x1="222.67" y1="255.90" x2="222.67" y2="254.02"/>
<line x1="225.87" y1="255.90" x2="225.87" y2="250.66"/>
<line x1="229.07" y1="255.90" x2="229.07" y2="254.82"/>
<line x1="232.26" y1="255.90" x2="232.26" y2="253.35"/>
<line x1="235.46" y1="255.90" x2="235.46" y2="251.73"/>
<line x1="238.66" y1="255.90" x2="238.66" y2="254.69"/>
<line x1="241.85" y1="255.90" x2="241.85" y2="252.94"/>
<line x1="245.05" y1="255.90" x2="245.05" y2="255.23"/>
<line x1="248.25" y1="255.90" x2="248.25" y2="252.14"/>
<line x1="251.44" y1="255.90" x2="251.44" y2="251.60"/>
<line x1="254.64" y1="255.90" x2="254.64" y2="252.54"/>
<line x1="257.84" y1="255.90" x2="257.84" y2="251.06"/>
<line x1="261.03" y1="255.90" x2="261.03" y2="253.88"/>
<line x1="264.23" y1="255.90" x2="264.23" y2="252.00"/>
<line x1="267.43" y1="255.90" x2="267.43" y2="252.54"/>
<line x1="270.62" y1="255.90" x2="270.62" y2="252.54"/>
<line x1="273.82" y1="255.90" x2="273.82" y2="253.21"/>
<line x1="277.02" y1="255.90" x2="277.02" y2="251.33"/>
<line x1="280.21" y1="255.90" x2="280.21" y2="250.79"/>
<line x1="283.41" y1="255.90" x2="283.41" y2="253.08"/>
<line x1="286.61" y1="255.90" x2="286.61" y2="252.14"/>
<line x1="289.80" y1="255.90" x2="289.80" y2="255.09"/>
<line x1="293.00" y1="255.90" x2="293.00" y2="252.00"/>
<line x1="296.19" y1="255.90" x2="296.19" y2="252.27"/>
<line x1="299.39" y1="255.90" x2="299.39" y2="250.52"/>
<line x1="302.59" y1="255.90" x2="302.59" y2="251.33"/>
<line x1="305.78" y1="255.90" x2="305.78" y2="254.02"/>
<line x1="308.98" y1="255.90" x2="308.98" y2="253.48"/>
<line x1="312.18" y1="255.90" x2="312.18" y2="252.14"/>
<line x1="315.37" y1="255.90" x2="315.37" y2="255.23"/>
<line x1="318.57" y1="255.90" x2="318.57" y2="253.08"/>
<line x1="321.77" y1="255.90" x2="321.77" y2="254.56"/>
<line x1="324.96" y1="255.90" x2="324.96" y2="254.82"/>
<line x1="328.16" y1="255.90" x2="328.16" y2="255.09"/>
<line x1="331.36" y1="255.90" x2="331.36" y2="251.60"/>
<line x1="334.55" y1="255.90" x2="334.55" y2="254.69"/>
<line x1="337.75" y1="255.90" x2="337.75" y2="254.15"/>
<line x1="340.95" y1="255.90" x2="340.95" y2="253.48"/>
<line x1="344.14" y1="255.90" x2="344.14" y2="251.20"/>
<line x1="347.34" y1="255.90" x2="347.34" y2="254.96"/>
<line x1="350.54" y1="255.90" x2="350.54" y2="253.21"/>
<line x1="353.73" y1="255.90" x2="353.73" y2="252.67"/>
<line x1="356.93" y1="255.90" x2="356.93" y2="251.06"/>
<line x1="360.12" y1="255.90" x2="360.12" y2="251.46"/>
<line x1="363.32" y1="255.90" x2="363.32" y2="251.20"/>
<line x1="366.52" y1="255.90" x2="366.52" y2="254.02"/>
<line x1="369.71" y1="255.90" x2="369.71" y2="253.35"/>
<line x1="372.91" y1="255.90" x2="372.91" y2="253.62"/>
<line x1="376.11" y1="255.90" x2="376.11" y2="251.06"/>
<line x1="379.30" y1="255.90" x2="379.30" y2="250.79"/>
<line x1="382.50" y1="255.90" x2="382.50" y2="254.69"/>
<line x1="385.70" y1="255.90" x2="385.70" y2="245.15"/>
<line x1="388.89" y1="255.90" x2="388.89" y2="235.07"/>
<line x1="392.09" y1="255.90" x2="392.09" y2="235.74"/>
<line x1="395.29" y1="255.90" x2="395.29" y2="150.80"/>
<line x1="398.48" y1="255.90" x2="398.48" y2="215.58"/>
<line x1="401.68" y1="255.90" x2="401.68" y2="139.78"/>
<line x1="404.88" y1="255.90" x2="404.88" y2="150.26"/>
<line x1="408.07" y1="255.90" x2="408.07" y2="178.62"/>
<line x1="411.27" y1="255.90" x2="411.27" y2="232.11"/>
<line x1="414.47" y1="255.90" x2="414.47" y2="213.16"/>
<line x1="417.66" y1="255.90" x2="417.66" y2="252.54"/>
<line x1="420.86" y1="255.90" x2="420.86" y2="190.04"/>
<line x1="424.05" y1="255.90" x2="424.05" y2="226.06"/>
<line x1="427.25" y1="255.90" x2="427.25" y2="209.40"/>
<line x1="430.45" y1="255.90" x2="430.45" y2="195.82"/>
<line x1="433.64" y1="255.90" x2="433.64" y2="191.52"/>
<line x1="436.84" y1="255.90" x2="436.84" y2="250.52"/>
<line x1="440.04" y1="255.90" x2="440.04" y2="245.82"/>
<line x1="443.23" y1="255.90" x2="443.23" y2="150.80"/>
<line x1="446.43" y1="255.90" x2="446.43" y2="237.76"/>
<line x1="449.63" y1="255.90" x2="449.63" y2="251.87"/>
<line x1="452.82" y1="255.90" x2="452.82" y2="129.16"/>
<line x1="456.02" y1="255.90" x2="456.02" y2="222.30"/>
<line x1="459.22" y1="255.90" x2="459.22" y2="108.06"/>
<line x1="462.41" y1="255.90" x2="462.41" y2="233.05"/>
<line x1="465.61" y1="255.90" x2="465.61" y2="164.51"/>
<line x1="468.81" y1="255.90" x2="468.81" y2="76.88"/>
<line x1="472.00" y1="255.90" x2="472.00" y2="201.47"/>
<line x1="475.20" y1="255.90" x2="475.20" y2="168.81"/>
<line x1="478.39" y1="255.90" x2="478.39" y2="133.60"/>
<line x1="481.59" y1="255.90" x2="481.59" y2="248.91"/>
<line x1="484.79" y1="255.90" x2="484.79" y2="179.83"/>
<line x1="487.98" y1="255.90" x2="487.98" y2="216.92"/>
<line x1="491.18" y1="255.90" x2="491.18" y2="247.03"/>
<line x1="494.38" y1="255.90" x2="494.38" y2="154.02"/>
<line x1="497.57" y1="255.90" x2="497.57" y2="225.39"/>
<line x1="500.77" y1="255.90" x2="500.77" y2="102.95"/>
<line x1="503.97" y1="255.90" x2="503.97" y2="218.27"/>
<line x1="507.16" y1="255.90" x2="507.16" y2="247.03"/>
<line x1="510.36" y1="255.90" x2="510.36" y2="196.50"/>
</g>
<g stroke="#2AAE00" stroke-width="1" fill="none">
<path d="M66.05 251.23V259.23M62.05 255.23H70.05M63.22 252.40L68.87 258.06M63.22 258.06L68.87 252.40"/>
<path d="M69.24 251.36V259.36M65.24 255.36H73.24M66.41 252.53L72.07 258.19M66.41 258.19L72.07 252.53"/>
<path d="M72.44 250.69V258.69M68.44 254.69H76.44M69.61 251.86L75.27 257.52M69.61 257.52L75.27 251.86"/>
<path d="M75.64 251.50V259.50M71.64 255.50H79.64M72.81 252.67L78.46 258.33M72.81 258.33L78.46 252.67"/>
<path d="M78.83 250.96V258.96M74.83 254.96H82.83M76.00 252.13L81.66 257.79M76.00 257.79L81.66 252.13"/>
<path d="M82.03 251.09V259.09M78.03 255.09H86.03M79.20 252.27L84.86 257.92M79.20 257.92L84.86 252.27"/>
<path d="M85.23 251.09V259.09M81.23 255.09H89.23M82.40 252.27L88.05 257.92M82.40 257.92L88.05 252.27"/>
<path d="M88.42 248.94V256.94M84.42 252.94H92.42M85.59 250.11L91.25 255.77M85.59 255.77L91.25 250.11"/>
<path d="M91.62 251.23V259.23M87.62 255.23H95.62M88.79 252.40L94.45 258.06M88.79 258.06L94.45 252.40"/>
<path d="M94.81 249.21V257.21M90.81 253.21H98.81M91.99 250.38L97.64 256.04M91.99 256.04L97.64 250.38"/>
<path d="M98.01 250.96V258.96M94.01 254.96H102.01M95.18 252.13L100.84 257.79M95.18 257.79L100.84 252.13"/>
<path d="M101.21 250.96V258.96M97.21 254.96H105.21M98.38 252.13L104.04 257.79M98.38 257.79L104.04 252.13"/>
<path d="M104.40 249.35V257.35M100.40 253.35H108.40M101.58 250.52L107.23 256.17M101.58 256.17L107.23 250.52"/>
<path d="M107.60 247.33V255.33M103.60 251.33H111.60M104.77 248.50L110.43 254.16M104.77 254.16L110.43 248.50"/>
<path d="M110.80 250.82V258.82M106.80 254.82H114.80M107.97 252.00L113.63 257.65M107.97 257.65L113.63 252.00"/>
<path d="M113.99 250.29V258.29M109.99 254.29H117.99M111.17 251.46L116.82 257.12M111.17 257.12L116.82 251.46"/>
<path d="M117.19 248.27V256.27M113.19 252.27H121.19M114.36 249.44L120.02 255.10M114.36 255.10L120.02 249.44"/>
<path d="M120.39 246.79V254.79M116.39 250.79H124.39M117.56 247.96L123.22 253.62M117.56 253.62L123.22 247.96"/>
<path d="M123.58 248.54V256.54M119.58 252.54H127.58M120.76 249.71L126.41 255.37M120.76 255.37L126.41 249.71"/>
<path d="M126.78 249.48V257.48M122.78 253.48H130.78M123.95 250.65L129.61 256.31M123.95 256.31L129.61 250.65"/>
<path d="M129.98 246.66V254.66M125.98 250.66H133.98M127.15 247.83L132.80 253.49M127.15 253.49L132.80 247.83"/>
<path d="M133.17 251.09V259.09M129.17 255.09H137.17M130.34 252.27L136.00 257.92M130.34 257.92L136.00 252.27"/>
<path d="M136.37 247.20V255.20M132.37 251.20H140.37M133.54 248.37L139.20 254.02M133.54 254.02L139.20 248.37"/>
<path d="M139.57 250.02V258.02M135.57 254.02H143.57M136.74 251.19L142.39 256.85M136.74 256.85L142.39 251.19"/>
<path d="M142.76 250.69V258.69M138.76 254.69H146.76M139.93 251.86L145.59 257.52M139.93 257.52L145.59 251.86"/>
<path d="M145.96 250.82V258.82M141.96 254.82H149.96M143.13 252.00L148.79 257.65M143.13 257.65L148.79 252.00"/>
<path d="M149.16 249.88V257.88M145.16 253.88H153.16M146.33 251.06L151.98 256.71M146.33 256.71L151.98 251.06"/>
<path d="M152.35 247.46V255.46M148.35 251.46H156.35M149.52 248.64L155.18 254.29M149.52 254.29L155.18 248.64"/>
<path d="M155.55 250.42V258.42M151.55 254.42H159.55M152.72 251.59L158.38 257.25M152.72 257.25L158.38 251.59"/>
<path d="M158.75 248.54V256.54M154.75 252.54H162.75M155.92 249.71L161.57 255.37M155.92 255.37L161.57 249.71"/>
<path d="M161.94 248.27V256.27M157.94 252.27H165.94M159.11 249.44L164.77 255.10M159.11 255.10L164.77 249.44"/>
<path d="M165.14 249.62V257.62M161.14 253.62H169.14M162.31 250.79L167.97 256.44M162.31 256.44L167.97 250.79"/>
<path d="M168.33 248.67V256.67M164.33 252.67H172.33M165.51 249.85L171.16 255.50M165.51 255.50L171.16 249.85"/>
<path d="M171.53 251.09V259.09M167.53 255.09H175.53M168.70 252.27L174.36 257.92M168.70 257.92L174.36 252.27"/>
<path d="M174.73 251.09V259.09M170.73 255.09H178.73M171.90 252.27L177.56 257.92M171.90 257.92L177.56 252.27"/>
<path d="M177.92 250.42V258.42M173.92 254.42H181.92M175.10 251.59L180.75 257.25M175.10 257.25L180.75 251.59"/>
<path d="M181.12 248.14V256.14M177.12 252.14H185.12M178.29 249.31L183.95 254.97M178.29 254.97L183.95 249.31"/>
<path d="M184.32 249.35V257.35M180.32 253.35H188.32M181.49 250.52L187.15 256.17M181.49 256.17L187.15 250.52"/>
<path d="M187.51 249.88V257.88M183.51 253.88H191.51M184.69 251.06L190.34 256.71M184.69 256.71L190.34 251.06"/>
<path d="M190.71 248.54V256.54M186.71 252.54H194.71M187.88 249.71L193.54 255.37M187.88 255.37L193.54 249.71"/>
<path d="M193.91 249.21V257.21M189.91 253.21H197.91M191.08 250.38L196.73 256.04M191.08 256.04L196.73 250.38"/>
<path d="M197.10 249.88V257.88M193.10 253.88H201.10M194.27 251.06L199.93 256.71M194.27 256.71L199.93 251.06"/>
<path d="M200.30 247.46V255.46M196.30 251.46H204.30M197.47 248.64L203.13 254.29M197.47 254.29L203.13 248.64"/>
<path d="M203.50 248.00V256.00M199.50 252.00H207.50M200.67 249.17L206.32 254.83M200.67 254.83L206.32 249.17"/>
<path d="M206.69 250.15V258.15M202.69 254.15H210.69M203.86 251.32L209.52 256.98M203.86 256.98L209.52 251.32"/>
<path d="M209.89 248.54V256.54M205.89 252.54H213.89M207.06 249.71L212.72 255.37M207.06 255.37L212.72 249.71"/>
<path d="M213.09 248.81V256.81M209.09 252.81H217.09M210.26 249.98L215.91 255.64M210.26 255.64L215.91 249.98"/>
<path d="M216.28 247.06V255.06M212.28 251.06H220.28M213.45 248.23L219.11 253.89M213.45 253.89L219.11 248.23"/>
<path d="M219.48 247.87V255.87M215.48 251.87H223.48M216.65 249.04L222.31 254.70M216.65 254.70L222.31 249.04"/>
<path d="M222.67 250.02V258.02M218.67 254.02H226.67M219.85 251.19L225.50 256.85M219.85 256.85L225.50 251.19"/>
<path d="M225.87 246.66V254.66M221.87 250.66H229.87M223.04 247.83L228.70 253.49M223.04 253.49L228.70 247.83"/>
<path d="M229.07 250.82V258.82M225.07 254.82H233.07M226.24 252.00L231.90 257.65M226.24 257.65L231.90 252.00"/>
<path d="M232.26 249.35V257.35M228.26 253.35H236.26M229.44 250.52L235.09 256.17M229.44 256.17L235.09 250.52"/>
<path d="M235.46 247.73V255.73M231.46 251.73H239.46M232.63 248.91L238.29 254.56M232.63 254.56L238.29 248.91"/>
<path d="M238.66 250.69V258.69M234.66 254.69H242.66M235.83 251.86L241.49 257.52M235.83 257.52L241.49 251.86"/>
<path d="M241.85 248.94V256.94M237.85 252.94H245.85M239.03 250.11L244.68 255.77M239.03 255.77L244.68 250.11"/>
<path d="M245.05 251.23V259.23M241.05 255.23H249.05M242.22 252.40L247.88 258.06M242.22 258.06L247.88 252.40"/>
<path d="M248.25 248.14V256.14M244.25 252.14H252.25M245.42 249.31L251.08 254.97M245.42 254.97L251.08 249.31"/>
<path d="M251.44 247.60V255.60M247.44 251.60H255.44M248.62 248.77L254.27 254.43M248.62 254.43L254.27 248.77"/>
<path d="M254.64 248.54V256.54M250.64 252.54H258.64M251.81 249.71L257.47 255.37M251.81 255.37L257.47 249.71"/>
<path d="M257.84 247.06V255.06M253.84 251.06H261.84M255.01 248.23L260.66 253.89M255.01 253.89L260.66 248.23"/>
<path d="M261.03 249.88V257.88M257.03 253.88H265.03M258.20 251.06L263.86 256.71M258.20 256.71L263.86 251.06"/>
<path d="M264.23 248.00V256.00M260.23 252.00H268.23M261.40 249.17L267.06 254.83M261.40 254.83L267.06 249.17"/>
<path d="M267.43 248.54V256.54M263.43 252.54H271.43M264.60 249.71L270.25 255.37M264.60 255.37L270.25 249.71"/>
<path d="M270.62 248.54V256.54M266.62 252.54H274.62M267.79 249.71L273.45 255.37M267.79 255.37L273.45 249.71"/>
<path d="M273.82 249.21V257.21M269.82 253.21H277.82M270.99 250.38L276.65 256.04M270.99 256.04L276.65 250.38"/>
<path d="M277.02 247.33V255.33M273.02 251.33H281.02M274.19 248.50L279.84 254.16M274.19 254.16L279.84 248.50"/>
<path d="M280.21 246.79V254.79M276.21 250.79H284.21M277.38 247.96L283.04 253.62M277.38 253.62L283.04 247.96"/>
<path d="M283.41 249.08V257.08M279.41 253.08H287.41M280.58 250.25L286.24 255.91M280.58 255.91L286.24 250.25"/>
<path d="M286.61 248.14V256.14M282.61 252.14H290.61M283.78 249.31L289.43 254.97M283.78 254.97L289.43 249.31"/>
<path d="M289.80 251.09V259.09M285.80 255.09H293.80M286.97 252.27L292.63 257.92M286.97 257.92L292.63 252.27"/>
<path d="M293.00 248.00V256.00M289.00 252.00H297.00M290.17 249.17L295.83 254.83M290.17 254.83L295.83 249.17"/>
<path d="M296.19 248.27V256.27M292.19 252.27H300.19M293.37 249.44L299.02 255.10M293.37 255.10L299.02 249.44"/>
<path d="M299.39 246.52V254.52M295.39 250.52H303.39M296.56 247.70L302.22 253.35M296.56 253.35L302.22 247.70"/>
<path d="M302.59 247.33V255.33M298.59 251.33H306.59M299.76 248.50L305.42 254.16M299.76 254.16L305.42 248.50"/>
<path d="M305.78 250.02V258.02M301.78 254.02H309.78M302.96 251.19L308.61 256.85M302.96 256.85L308.61 251.19"/>
<path d="M308.98 249.48V257.48M304.98 253.48H312.98M306.15 250.65L311.81 256.31M306.15 256.31L311.81 250.65"/>
<path d="M312.18 248.14V256.14M308.18 252.14H316.18M309.35 249.31L315.01 254.97M309.35 254.97L315.01 249.31"/>
<path d="M315.37 251.23V259.23M311.37 255.23H319.37M312.55 252.40L318.20 258.06M312.55 258.06L318.20 252.40"/>
<path d="M318.57 249.08V257.08M314.57 253.08H322.57M315.74 250.25L321.40 255.91M315.74 255.91L321.40 250.25"/>
<path d="M321.77 250.56V258.56M317.77 254.56H325.77M318.94 251.73L324.59 257.38M318.94 257.38L324.59 251.73"/>
<path d="M324.96 250.82V258.82M320.96 254.82H328.96M322.13 252.00L327.79 257.65M322.13 257.65L327.79 252.00"/>
<path d="M328.16 251.09V259.09M324.16 255.09H332.16M325.33 252.27L330.99 257.92M325.33 257.92L330.99 252.27"/>
<path d="M331.36 247.60V255.60M327.36 251.60H335.36M328.53 248.77L334.18 254.43M328.53 254.43L334.18 248.77"/>
<path d="M334.55 250.69V258.69M330.55 254.69H338.55M331.72 251.86L337.38 257.52M331.72 257.52L337.38 251.86"/>
<path d="M337.75 250.15V258.15M333.75 254.15H341.75M334.92 251.32L340.58 256.98M334.92 256.98L340.58 251.32"/>
<path d="M340.95 249.48V257.48M336.95 253.48H344.95M338.12 250.65L343.77 256.31M338.12 256.31L343.77 250.65"/>
<path d="M344.14 247.20V255.20M340.14 251.20H348.14M341.31 248.37L346.97 254.02M341.31 254.02L346.97 248.37"/>
<path d="M347.34 250.96V258.96M343.34 254.96H351.34M344.51 252.13L350.17 257.79M344.51 257.79L350.17 252.13"/>
<path d="M350.54 249.21V257.21M346.54 253.21H354.54M347.71 250.38L353.36 256.04M347.71 256.04L353.36 250.38"/>
<path d="M353.73 248.67V256.67M349.73 252.67H357.73M350.90 249.85L356.56 255.50M350.90 255.50L356.56 249.85"/>
<path d="M356.93 247.06V255.06M352.93 251.06H360.93M354.10 248.23L359.76 253.89M354.10 253.89L359.76 248.23"/>
<path d="M360.12 247.46V255.46M356.12 251.46H364.12M357.30 248.64L362.95 254.29M357.30 254.29L362.95 248.64"/>
<path d="M363.32 247.20V255.20M359.32 251.20H367.32M360.49 248.37L366.15 254.02M360.49 254.02L366.15 248.37"/>
<path d="M366.52 250.02V258.02M362.52 254.02H370.52M363.69 251.19L369.35 256.85M363.69 256.85L369.35 251.19"/>
<path d="M369.71 249.35V257.35M365.71 253.35H373.71M366.89 250.52L372.54 256.17M366.89 256.17L372.54 250.52"/>
<path d="M372.91 249.62V257.62M368.91 253.62H376.91M370.08 250.79L375.74 256.44M370.08 256.44L375.74 250.79"/>
<path d="M376.11 247.06V255.06M372.11 251.06H380.11M373.28 248.23L378.94 253.89M373.28 253.89L378.94 248.23"/>
<path d="M379.30 246.79V254.79M375.30 250.79H383.30M376.48 247.96L382.13 253.62M376.48 253.62L382.13 247.96"/>
<path d="M382.50 250.69V258.69M378.50 254.69H386.50M379.67 251.86L385.33 257.52M379.67 257.52L385.33 251.86"/>
<path stroke-width="0.8" d="M385.70 240.74V248.74M381.70 244.74H389.70M382.87 241.92L388.52 247.57M382.87 247.57L388.52 241.92"/>
<path stroke-width="0.8" d="M388.89 230.66V238.66M384.89 234.66H392.89M386.06 231.84L391.72 237.49M386.06 237.49L391.72 231.84"/>
<path stroke-width="0.8" d="M392.09 231.34V239.34M388.09 235.34H396.09M389.26 232.51L394.92 238.17M389.26 238.17L394.92 232.51"/>
<path stroke-width="0.8" d="M395.29 146.40V154.40M391.29 150.40H399.29M392.46 147.57L398.11 153.22M392.46 153.22L398.11 147.57"/>
<path stroke-width="0.8" d="M398.48 211.18V219.18M394.48 215.18H402.48M395.65 212.35L401.31 218.01M395.65 218.01L401.31 212.35"/>
<path stroke-width="0.8" d="M401.68 135.38V143.38M397.68 139.38H405.68M398.85 136.55L404.51 142.20M398.85 142.20L404.51 136.55"/>
<path stroke-width="0.8" d="M404.88 145.86V153.86M400.88 149.86H408.88M402.05 147.03L407.70 152.69M402.05 152.69L407.70 147.03"/>
<path stroke-width="0.8" d="M408.07 174.22V182.22M404.07 178.22H412.07M405.24 175.39L410.90 181.05M405.24 181.05L410.90 175.39"/>
<path stroke-width="0.8" d="M411.27 227.71V235.71M407.27 231.71H415.27M408.44 228.88L414.10 234.54M408.44 234.54L414.10 228.88"/>
<path stroke-width="0.8" d="M414.47 208.76V216.76M410.47 212.76H418.47M411.64 209.93L417.29 215.59M411.64 215.59L417.29 209.93"/>
<path stroke-width="0.8" d="M417.66 248.14V256.14M413.66 252.14H421.66M414.83 249.31L420.49 254.97M414.83 254.97L420.49 249.31"/>
<path stroke-width="0.8" d="M420.86 185.64V193.64M416.86 189.64H424.86M418.03 186.81L423.69 192.47M418.03 192.47L423.69 186.81"/>
<path stroke-width="0.8" d="M424.05 221.66V229.66M420.05 225.66H428.05M421.23 222.83L426.88 228.49M421.23 228.49L426.88 222.83"/>
<path stroke-width="0.8" d="M427.25 204.99V212.99M423.25 208.99H431.25M424.42 206.17L430.08 211.82M424.42 211.82L430.08 206.17"/>
<path stroke-width="0.8" d="M430.45 191.42V199.42M426.45 195.42H434.45M427.62 192.59L433.28 198.25M427.62 198.25L433.28 192.59"/>
<path stroke-width="0.8" d="M433.64 187.12V195.12M429.64 191.12H437.64M430.82 188.29L436.47 193.95M430.82 193.95L436.47 188.29"/>
<path stroke-width="0.8" d="M436.84 246.12V254.12M432.84 250.12H440.84M434.01 247.29L439.67 252.95M434.01 252.95L439.67 247.29"/>
<path stroke-width="0.8" d="M440.04 241.42V249.42M436.04 245.42H444.04M437.21 242.59L442.87 248.25M437.21 248.25L442.87 242.59"/>
<path stroke-width="0.8" d="M443.23 146.40V154.40M439.23 150.40H447.23M440.41 147.57L446.06 153.22M440.41 153.22L446.06 147.57"/>
<path stroke-width="0.8" d="M446.43 233.35V241.35M442.43 237.35H450.43M443.60 234.52L449.26 240.18M443.60 240.18L449.26 234.52"/>
<path stroke-width="0.8" d="M449.63 247.46V255.46M445.63 251.46H453.63M446.80 248.64L452.45 254.29M446.80 254.29L452.45 248.64"/>
<path stroke-width="0.8" d="M452.82 124.76V132.76M448.82 128.76H456.82M449.99 125.93L455.65 131.59M449.99 131.59L455.65 125.93"/>
<path stroke-width="0.8" d="M456.02 217.90V225.90M452.02 221.90H460.02M453.19 219.07L458.85 224.73M453.19 224.73L458.85 219.07"/>
<path stroke-width="0.8" d="M459.22 103.66V111.66M455.22 107.66H463.22M456.39 104.83L462.04 110.49M456.39 110.49L462.04 104.83"/>
<path stroke-width="0.8" d="M462.41 228.65V236.65M458.41 232.65H466.41M459.58 229.82L465.24 235.48M459.58 235.48L465.24 229.82"/>
<path stroke-width="0.8" d="M465.61 160.10V168.10M461.61 164.10H469.61M462.78 161.28L468.44 166.93M462.78 166.93L468.44 161.28"/>
<path stroke-width="0.8" d="M468.81 72.48V80.48M464.81 76.48H472.81M465.98 73.65L471.63 79.30M465.98 79.30L471.63 73.65"/>
<path stroke-width="0.8" d="M472.00 197.06V205.06M468.00 201.06H476.00M469.17 198.24L474.83 203.89M469.17 203.89L474.83 198.24"/>
<path stroke-width="0.8" d="M475.20 164.41V172.41M471.20 168.41H479.20M472.37 165.58L478.03 171.23M472.37 171.23L478.03 165.58"/>
<path stroke-width="0.8" d="M478.39 129.19V137.19M474.39 133.19H482.39M475.57 130.36L481.22 136.02M475.57 136.02L481.22 130.36"/>
<path stroke-width="0.8" d="M481.59 244.51V252.51M477.59 248.51H485.59M478.76 245.68L484.42 251.34M478.76 251.34L484.42 245.68"/>
<path stroke-width="0.8" d="M484.79 175.43V183.43M480.79 179.43H488.79M481.96 176.60L487.62 182.25M481.96 182.25L487.62 176.60"/>
<path stroke-width="0.8" d="M487.98 212.52V220.52M483.98 216.52H491.98M485.16 213.69L490.81 219.35M485.16 219.35L490.81 213.69"/>
<path stroke-width="0.8" d="M491.18 242.63V250.63M487.18 246.63H495.18M488.35 243.80L494.01 249.45M488.35 249.45L494.01 243.80"/>
<path stroke-width="0.8" d="M494.38 149.62V157.62M490.38 153.62H498.38M491.55 150.79L497.21 156.45M491.55 156.45L497.21 150.79"/>
<path stroke-width="0.8" d="M497.57 220.99V228.99M493.57 224.99H501.57M494.75 222.16L500.40 227.82M494.75 227.82L500.40 222.16"/>
<path stroke-width="0.8" d="M500.77 98.55V106.55M496.77 102.55H504.77M497.94 99.72L503.60 105.38M497.94 105.38L503.60 99.72"/>
<path stroke-width="0.8" d="M503.97 213.86V221.86M499.97 217.86H507.97M501.14 215.04L506.80 220.69M501.14 220.69L506.80 215.04"/>
<path stroke-width="0.8" d="M507.16 242.63V250.63M503.16 246.63H511.16M504.34 243.80L509.99 249.45M504.34 249.45L509.99 243.80"/>
<path stroke-width="0.8" d="M510.36 192.09V200.09M506.36 196.09H514.36M507.53 193.26L513.19 198.92M507.53 198.92L513.19 193.26"/>
</g>
</g>
<line x1="382.5" y1="256" x2="382.5" y2="14" stroke="#7a7a7a" stroke-width="1.9" stroke-dasharray="8.3 9.3"/>
<rect x="47.1" y="14" width="495.1" height="242" fill="none" stroke="#000" stroke-width="2"/>
<g stroke="#000" stroke-width="2">
<line x1="41.8" y1="255.90" x2="46.5" y2="255.90"/>
<line x1="44.1" y1="235.74" x2="46.5" y2="235.74"/>
<line x1="41.8" y1="215.58" x2="46.5" y2="215.58"/>
<line x1="44.1" y1="195.42" x2="46.5" y2="195.42"/>
<line x1="41.8" y1="175.26" x2="46.5" y2="175.26"/>
<line x1="44.1" y1="155.10" x2="46.5" y2="155.10"/>
<line x1="41.8" y1="134.94" x2="46.5" y2="134.94"/>
<line x1="44.1" y1="114.78" x2="46.5" y2="114.78"/>
<line x1="41.8" y1="94.62" x2="46.5" y2="94.62"/>
<line x1="44.1" y1="74.46" x2="46.5" y2="74.46"/>
<line x1="41.8" y1="54.30" x2="46.5" y2="54.30"/>
<line x1="44.1" y1="34.14" x2="46.5" y2="34.14"/>
<line x1="41.8" y1="13.98" x2="46.5" y2="13.98"/>
<line x1="62.85" y1="256.5" x2="62.85" y2="260.4"/>
<line x1="94.81" y1="256.5" x2="94.81" y2="258.4"/>
<line x1="126.78" y1="256.5" x2="126.78" y2="260.4"/>
<line x1="158.75" y1="256.5" x2="158.75" y2="258.4"/>
<line x1="190.71" y1="256.5" x2="190.71" y2="260.4"/>
<line x1="222.67" y1="256.5" x2="222.67" y2="258.4"/>
<line x1="254.64" y1="256.5" x2="254.64" y2="260.4"/>
<line x1="286.61" y1="256.5" x2="286.61" y2="258.4"/>
<line x1="318.57" y1="256.5" x2="318.57" y2="260.4"/>
<line x1="350.54" y1="256.5" x2="350.54" y2="258.4"/>
<line x1="382.50" y1="256.5" x2="382.50" y2="260.4"/>
<line x1="414.47" y1="256.5" x2="414.47" y2="258.4"/>
<line x1="446.43" y1="256.5" x2="446.43" y2="260.4"/>
<line x1="478.39" y1="256.5" x2="478.39" y2="258.4"/>
<line x1="510.36" y1="256.5" x2="510.36" y2="260.4"/>
<line x1="542.32" y1="256.5" x2="542.32" y2="258.4"/>
</g>
<g font-family="'Liberation Serif', serif" font-weight="bold" fill="#000">
<g font-size="14.6px" text-anchor="end">
<text x="38.8" y="260.4">0</text>
<text x="38.8" y="220.1">3</text>
<text x="38.8" y="179.8">6</text>
<text x="38.8" y="139.4">9</text>
<text x="38.8" y="99.1">12</text>
<text x="38.8" y="58.8">15</text>
<text x="38.8" y="18.5">18</text>
</g>
<g font-size="14.4px" text-anchor="middle">
<text x="62.9" y="275.6">0</text>
<text x="126.8" y="275.6">20</text>
<text x="190.7" y="275.6">40</text>
<text x="254.6" y="275.6">60</text>
<text x="318.6" y="275.6">80</text>
<text x="382.5" y="275.6">100</text>
<text x="446.4" y="275.6">120</text>
<text x="510.4" y="275.6">140</text>
</g>
<text x="287.2" y="293.8" font-size="15.6px" text-anchor="middle">Sample</text>
<text transform="translate(18.4 134.6) rotate(-90)" font-size="15.8px" text-anchor="middle">Error absolute value</text>
<text x="314.6" y="95" font-size="14.5px">Train set</text>
<text x="393.3" y="94" font-size="14.6px">Test set</text>
<text transform="translate(436 30.8) scale(0.93 1)" font-size="14px">LSSVM</text>
<text transform="translate(436 47.2) scale(0.93 1)" font-size="14px">PSO-LSSVM</text>
<text transform="translate(436 63.7) scale(0.93 1)" font-size="14px">WCA_LSSVM</text>
</g>
<text x="275.2" y="331.3" font-family="'Liberation Serif', serif" font-size="16px" text-anchor="middle" fill="#000">(b)</text>
<path stroke="#2AAE00" stroke-width="1.2" fill="none" d="M416.90 19.10V32.70M410.10 25.90H423.70M412.09 21.09L421.71 30.71M412.09 30.71L421.71 21.09"/>
<circle cx="416.7" cy="42.7" r="6.5" fill="#FA3E3E"/>
<path d="M409.4 55.1L424.6 55.1L417 67.9Z" fill="#4267FF"/>
</svg>
</body></html>
